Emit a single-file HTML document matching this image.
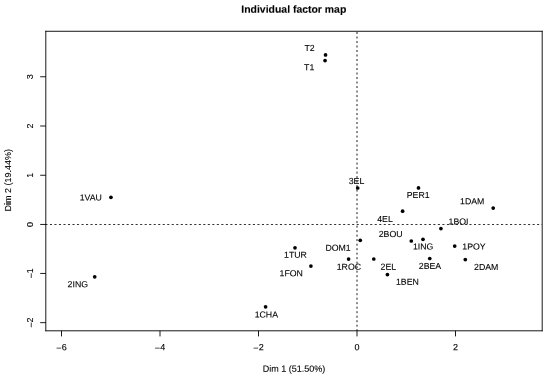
<!DOCTYPE html>
<html><head><meta charset="utf-8"><title>Individual factor map</title>
<style>
html,body{margin:0;padding:0;background:#fff;}
svg{display:block;}
text{font-family:"Liberation Sans",sans-serif;fill:#000;stroke:#000;stroke-width:0.1px;}
.t{font-size:8.75px;text-anchor:middle;}
.ax{font-size:9px;text-anchor:middle;}
.ttl{font-size:10.45px;font-weight:bold;text-anchor:middle;fill:#000;}
</style></head><body>
<svg width="550" height="378" viewBox="0 0 550 378">
<rect width="550" height="378" fill="#fff"/>
<text class="ttl" transform="translate(293.8,12.7) rotate(0.05)">Individual factor map</text>
<path d="M45.8 30.82V331.24M542.2 30.82V331.24" fill="none" stroke="#000" stroke-width="0.9"/>
<path d="M45.35 31.28H542.7M45.35 330.81H542.7" fill="none" stroke="#000" stroke-width="0.92"/>
<line x1="357.0" y1="32.0" x2="357.0" y2="330.8" stroke="#000" stroke-width="0.9" stroke-dasharray="2 2.503"/>
<line x1="45.4" y1="224.5" x2="542.1" y2="224.5" stroke="#000" stroke-width="0.8" stroke-dasharray="2.1 2.411"/>
<line x1="61.5" y1="330.8" x2="61.5" y2="336.40" stroke="#000" stroke-width="0.9"/>
<text class="ax" transform="translate(61.5,350.3) rotate(0.05)"><tspan dy="0.7">−</tspan><tspan dy="-0.7">6</tspan></text>
<line x1="160.0" y1="330.8" x2="160.0" y2="336.40" stroke="#000" stroke-width="0.9"/>
<text class="ax" transform="translate(160.0,350.3) rotate(0.05)"><tspan dy="0.7">−</tspan><tspan dy="-0.7">4</tspan></text>
<line x1="258.5" y1="330.8" x2="258.5" y2="336.40" stroke="#000" stroke-width="0.9"/>
<text class="ax" transform="translate(258.5,350.3) rotate(0.05)"><tspan dy="0.7">−</tspan><tspan dy="-0.7">2</tspan></text>
<line x1="357.0" y1="330.8" x2="357.0" y2="336.40" stroke="#000" stroke-width="0.9"/>
<text class="ax" transform="translate(357.0,350.3) rotate(0.05)">0</text>
<line x1="455.5" y1="330.8" x2="455.5" y2="336.40" stroke="#000" stroke-width="0.9"/>
<text class="ax" transform="translate(455.5,350.3) rotate(0.05)">2</text>
<line x1="40.20" y1="76.75" x2="45.8" y2="76.75" stroke="#000" stroke-width="0.9"/>
<text class="ax" transform="translate(33.0,76.75) rotate(-90)">3</text>
<line x1="40.20" y1="126.0" x2="45.8" y2="126.0" stroke="#000" stroke-width="0.9"/>
<text class="ax" transform="translate(33.0,126.0) rotate(-90)">2</text>
<line x1="40.20" y1="175.25" x2="45.8" y2="175.25" stroke="#000" stroke-width="0.9"/>
<text class="ax" transform="translate(33.0,175.25) rotate(-90)">1</text>
<line x1="40.20" y1="224.45" x2="45.8" y2="224.45" stroke="#000" stroke-width="0.9"/>
<text class="ax" transform="translate(33.0,224.45) rotate(-90)">0</text>
<line x1="40.20" y1="273.45" x2="45.8" y2="273.45" stroke="#000" stroke-width="0.9"/>
<text class="ax" transform="translate(33.0,273.45) rotate(-90)"><tspan dy="0.7">−</tspan><tspan dy="-0.7">1</tspan></text>
<line x1="40.20" y1="322.65" x2="45.8" y2="322.65" stroke="#000" stroke-width="0.9"/>
<text class="ax" transform="translate(33.0,322.65) rotate(-90)"><tspan dy="0.7">−</tspan><tspan dy="-0.7">2</tspan></text>
<text class="ax" transform="translate(294,371.7) rotate(0.05)">Dim 1 (51.50%)</text>
<text class="ax" transform="translate(10.9,180.2) rotate(-90)">Dim 2 (19.44%)</text>
<circle cx="325.55" cy="54.90" r="1.85" fill="#000"/>
<text class="t" transform="translate(309.6,50.9) rotate(0.05)">T2</text>
<circle cx="325.05" cy="60.55" r="1.85" fill="#000"/>
<text class="t" transform="translate(309.2,70.3) rotate(0.05)">T1</text>
<circle cx="357.70" cy="188.00" r="1.85" fill="#000"/>
<text class="t" transform="translate(356.5,184.0) rotate(0.05)">3EL</text>
<circle cx="418.50" cy="187.90" r="1.85" fill="#000"/>
<text class="t" transform="translate(418.2,197.9) rotate(0.05)">PER1</text>
<circle cx="493.20" cy="208.10" r="1.85" fill="#000"/>
<text class="t" transform="translate(472.2,204.3) rotate(0.05)">1DAM</text>
<circle cx="402.60" cy="211.20" r="1.85" fill="#000"/>
<text class="t" transform="translate(385.0,222.0) rotate(0.05)">4EL</text>
<circle cx="440.90" cy="228.60" r="1.85" fill="#000"/>
<text class="t" transform="translate(458.5,224.5) rotate(0.05)">1BOI</text>
<circle cx="411.30" cy="241.00" r="1.85" fill="#000"/>
<text class="t" transform="translate(390.6,237.0) rotate(0.05)">2BOU</text>
<circle cx="423.00" cy="239.30" r="1.85" fill="#000"/>
<text class="t" transform="translate(423.2,249.6) rotate(0.05)">1ING</text>
<circle cx="454.70" cy="246.05" r="1.85" fill="#000"/>
<text class="t" transform="translate(474.0,249.6) rotate(0.05)">1POY</text>
<circle cx="465.30" cy="259.55" r="1.85" fill="#000"/>
<text class="t" transform="translate(486.2,270.1) rotate(0.05)">2DAM</text>
<circle cx="429.75" cy="258.50" r="1.85" fill="#000"/>
<text class="t" transform="translate(430.0,269.0) rotate(0.05)">2BEA</text>
<circle cx="373.80" cy="259.00" r="1.85" fill="#000"/>
<text class="t" transform="translate(388.4,269.8) rotate(0.05)">2EL</text>
<circle cx="387.40" cy="274.55" r="1.85" fill="#000"/>
<text class="t" transform="translate(407.4,284.8) rotate(0.05)">1BEN</text>
<circle cx="360.25" cy="240.30" r="1.85" fill="#000"/>
<text class="t" transform="translate(338.1,250.8) rotate(0.05)">DOM1</text>
<circle cx="348.60" cy="259.10" r="1.85" fill="#000"/>
<text class="t" transform="translate(348.9,269.8) rotate(0.05)">1ROC</text>
<circle cx="295.00" cy="247.80" r="1.85" fill="#000"/>
<text class="t" transform="translate(295.5,257.7) rotate(0.05)">1TUR</text>
<circle cx="310.90" cy="266.10" r="1.85" fill="#000"/>
<text class="t" transform="translate(291.2,276.3) rotate(0.05)">1FON</text>
<circle cx="265.60" cy="306.80" r="1.85" fill="#000"/>
<text class="t" transform="translate(266.3,317.6) rotate(0.05)">1CHA</text>
<circle cx="110.95" cy="197.30" r="1.85" fill="#000"/>
<text class="t" transform="translate(90.8,200.6) rotate(0.05)">1VAU</text>
<circle cx="94.70" cy="276.80" r="1.85" fill="#000"/>
<text class="t" transform="translate(77.8,287.2) rotate(0.05)">2ING</text>
</svg>
</body></html>
